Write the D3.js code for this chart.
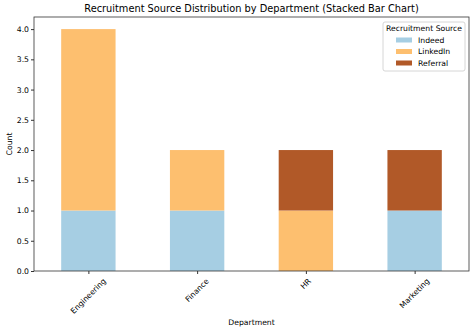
<!DOCTYPE html>
<html>
<head>
<meta charset="utf-8">
<script src="https://cdn.jsdelivr.net/npm/d3@7"></script>
<style>
body { margin: 0; background: #fff; }
text { font-family: "DejaVu Sans", sans-serif; fill: #000; }
</style>
</head>
<body>
<svg id="chart"></svg>
<script>
// data
var departments = ["Engineering", "Finance", "HR", "Marketing"];
var sources = ["Indeed", "LinkedIn", "Referral"];
var indeed = [1, 1, 0, 1];
var linkedin = [3, 1, 1, 0];
var referral = [0, 0, 1, 1];
var yTicks = [0, 0.5, 1, 1.5, 2, 2.5, 3, 3.5, 4];
var colors = ["#a6cee3", "#fdbf6f", "#b15928"];

var width = 474, height = 332;
var mLeft = 34, mRight = 469, mTop = 17, mBottom = 271;
var fs = "7.7px";

var svg = d3.select("#chart").attr("width", width).attr("height", height);

var rows = departments.map(function(d, i) {
	return {dept: d, Indeed: indeed[i], LinkedIn: linkedin[i], Referral: referral[i]};
});
var series = d3.stack().keys(sources)(rows);

//scales
var x = d3.scaleLinear().domain([-0.5, departments.length - 0.5]).range([mLeft, mRight]);
var y = d3.scaleLinear().domain([0, 4.2]).range([mBottom, mTop]);
var barW = x(0.5) - x(0);

//bars
svg.selectAll(".layer")
	.data(series)
	.enter().append("g")
	.attr("fill", function(d, i) { return colors[i]; })
	.selectAll("rect")
	.data(function(d) { return d; })
	.enter().append("rect")
	.attr("x", function(d, i) { return x(i) - barW / 2; })
	.attr("y", function(d) { return y(d[1]); })
	.attr("width", barW)
	.attr("height", function(d) { return y(d[0]) - y(d[1]); });

//axes
var yAxis = svg.append("g")
	.attr("transform", "translate(" + mLeft + ",0)")
	.call(d3.axisLeft(y).tickValues(yTicks).tickFormat(d3.format(".1f")).tickSize(3).tickPadding(2));
yAxis.select(".domain").remove();
yAxis.selectAll("text").style("font-size", fs).style("font-family", "DejaVu Sans");
yAxis.selectAll("line").attr("stroke", "#333");

var xAxis = svg.append("g")
	.attr("transform", "translate(0," + mBottom + ")")
	.call(d3.axisBottom(x).tickValues(d3.range(departments.length)).tickSize(3).tickFormat(""));
xAxis.select(".domain").remove();
xAxis.selectAll("line").attr("stroke", "#333");

//rotated tick labels, centred under tick like matplotlib
departments.forEach(function(name, i) {
	var t = svg.append("text")
		.attr("text-anchor", "middle")
		.attr("dominant-baseline", "central")
		.style("font-size", fs)
		.text(name);
	var w = t.node().getComputedTextLength();
	var h = 8;
	var bb = (w + h) * Math.SQRT1_2;
	var cx = x(i), cy = mBottom + 6 + bb / 2;
	t.attr("transform", "translate(" + cx + "," + cy + ") rotate(-45)");
});

//frame
svg.append("rect")
	.attr("x", mLeft).attr("y", mTop)
	.attr("width", mRight - mLeft).attr("height", mBottom - mTop)
	.attr("fill", "none").attr("stroke", "#333").attr("stroke-width", 0.8);

//labels
svg.append("text")
	.attr("text-anchor", "middle")
	.attr("x", (mLeft + mRight) / 2)
	.attr("y", 12)
	.style("font-size", "9.8px")
	.text("Recruitment Source Distribution by Department (Stacked Bar Chart)");

svg.append("text")
	.attr("text-anchor", "middle")
	.attr("x", (mLeft + mRight) / 2)
	.attr("y", 325)
	.style("font-size", fs)
	.text("Department");

svg.append("text")
	.attr("text-anchor", "middle")
	.attr("transform", "translate(12," + ((mTop + mBottom) / 2) + ") rotate(-90)")
	.style("font-size", fs)
	.text("Count");

//legend
var lg = svg.append("g").attr("transform", "translate(383,22)");
lg.append("rect")
	.attr("width", 82).attr("height", 49).attr("rx", 2)
	.attr("fill", "#fff").attr("fill-opacity", 0.8)
	.attr("stroke", "#ccc").attr("stroke-width", 0.8);
lg.append("text")
	.attr("x", 41).attr("y", 9)
	.attr("text-anchor", "middle")
	.style("font-size", fs)
	.text("Recruitment Source");
sources.forEach(function(s, i) {
	var gy = 18 + i * 11.5;
	lg.append("rect")
		.attr("x", 13).attr("y", gy - 2.5)
		.attr("width", 16).attr("height", 5)
		.attr("fill", colors[i]);
	lg.append("text")
		.attr("x", 35).attr("y", gy)
		.attr("dominant-baseline", "central")
		.style("font-size", fs)
		.text(s);
});
</script>
</body>
</html>
